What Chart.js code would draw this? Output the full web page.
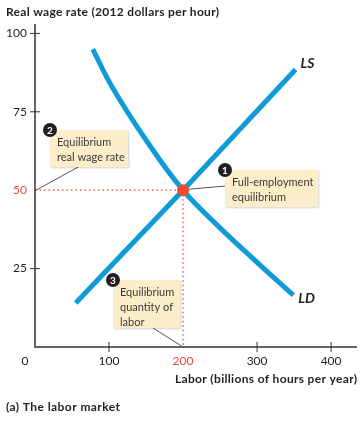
<!DOCTYPE html>
<html>
<head>
<meta charset="utf-8">
<script src="https://cdn.jsdelivr.net/npm/chart.js@4.4.1/dist/chart.umd.min.js"></script>
<style>
  html, body { margin: 0; padding: 0; background: #fff; }
  #wrap { width: 364px; height: 424px; }
</style>
</head>
<body>
<div id="wrap"><canvas id="labor" width="364" height="424"></canvas></div>
<script>
// values
const xTicks = [0, 100, 200, 300, 400];
const yTicks = [25, 50, 75, 100];
const lsLabor = [55, 200, 352];
const lsWage = [14, 50, 88.5];
const ldLabor = [78, 104, 150, 200, 250, 300, 349];
const ldWage = [95, 83, 66, 50, 38, 27, 16.5];
const eqLabor = 200;
const eqWage = 50;

const BLUE = "#0f9bd7";
const RED = "#ef4a2c";
const INK = "#231f20";
const FONT = "Lato, 'Open Sans', sans-serif";

const toPts = (xs, ys) => xs.map((x, i) => ({ x, y: ys[i] }));

// bold heading stretched to the width it has in the figure
function heading(ctx, text, x, y, width, align) {
  ctx.save();
  ctx.font = `bold 12px ${FONT}`;
  ctx.fillStyle = INK;
  ctx.textBaseline = "middle";
  const natural = ctx.measureText(text).width;
  if ("letterSpacing" in ctx) {
    ctx.letterSpacing = `${(width - natural) / (text.length - 1)}px`;
  }
  ctx.textAlign = "left";
  const left = align === "right" ? x - width : x;
  ctx.fillText(text, left, y);
  ctx.restore();
}

function callout(ctx, box, num, lines) {
  ctx.save();
  ctx.shadowColor = "rgba(0,0,0,0.18)";
  ctx.shadowBlur = 2;
  ctx.shadowOffsetX = 1;
  ctx.shadowOffsetY = 1;
  ctx.fillStyle = "#fdedc9";
  ctx.fillRect(box.x, box.y, box.w, box.h);
  ctx.restore();

  ctx.fillStyle = "#3a3a3a";
  ctx.font = `11px ${FONT}`;
  ctx.textAlign = "left";
  ctx.textBaseline = "middle";
  lines.forEach((t, i) => ctx.fillText(t, box.x + 7, box.y + 12 + i * 15));

  ctx.beginPath();
  ctx.arc(box.x, box.y, 7, 0, Math.PI * 2);
  ctx.fillStyle = INK;
  ctx.fill();
  ctx.fillStyle = "#fff";
  ctx.font = `bold 10px ${FONT}`;
  ctx.textAlign = "center";
  ctx.fillText(num, box.x, box.y + 0.5);
}

function leader(ctx, x1, y1, x2, y2) {
  ctx.save();
  ctx.strokeStyle = "#555";
  ctx.lineWidth = 1;
  ctx.beginPath();
  ctx.moveTo(x1, y1);
  ctx.lineTo(x2, y2);
  ctx.stroke();
  ctx.restore();
}

const frame = {
  id: "frame",
  beforeDatasetsDraw(chart) {
    const { ctx, chartArea: a, scales: { x, y } } = chart;
    const ex = x.getPixelForValue(eqLabor);
    const ey = y.getPixelForValue(eqWage);

    // dotted guides to the equilibrium
    ctx.save();
    ctx.strokeStyle = RED;
    ctx.lineWidth = 1.3;
    ctx.setLineDash([1.5, 3]);
    ctx.beginPath();
    ctx.moveTo(a.left, ey);
    ctx.lineTo(ex, ey);
    ctx.moveTo(ex, ey);
    ctx.lineTo(ex, a.bottom);
    ctx.stroke();
    ctx.restore();

    // axes
    ctx.save();
    ctx.strokeStyle = "#333";
    ctx.lineWidth = 1.5;
    ctx.beginPath();
    ctx.moveTo(a.left, a.top);
    ctx.lineTo(a.left, a.bottom);
    ctx.lineTo(a.right, a.bottom);
    ctx.stroke();

    ctx.lineWidth = 1;
    ctx.font = `12px ${FONT}`;
    ctx.textBaseline = "middle";
    ctx.textAlign = "right";
    yTicks.forEach((v) => {
      const py = y.getPixelForValue(v);
      ctx.beginPath();
      ctx.moveTo(a.left - 5, py);
      ctx.lineTo(a.left + 5, py);
      if (v !== eqWage) ctx.stroke();
      ctx.fillStyle = v === eqWage ? RED : INK;
      ctx.fillText(String(v), a.left - 8, py);
    });

    ctx.textAlign = "center";
    xTicks.forEach((v) => {
      const px = x.getPixelForValue(v);
      if (v !== 0 && v !== eqLabor) {
        ctx.beginPath();
        ctx.moveTo(px, a.bottom - 5);
        ctx.lineTo(px, a.bottom + 5);
        ctx.stroke();
      }
      ctx.fillStyle = v === eqLabor ? RED : INK;
      ctx.fillText(String(v), v === 0 ? px - 10 : px, a.bottom + 14);
    });
    ctx.restore();
  },
  afterDatasetsDraw(chart) {
    const { ctx, chartArea: a, scales: { x, y } } = chart;
    const ex = x.getPixelForValue(eqLabor);
    const ey = y.getPixelForValue(eqWage);

    heading(ctx, "Real wage rate (2012 dollars per hour)", 6, 12, 213, "left");
    heading(ctx, "Labor (billions of hours per year)", a.right, 379, 182, "right");
    heading(ctx, "(a) The labor market", 6, 407, 114, "left");

    ctx.save();
    // curve labels
    ctx.fillStyle = INK;
    ctx.textBaseline = "middle";
    ctx.font = `italic bold 14px ${FONT}`;
    ctx.textAlign = "left";
    const lsEnd = lsLabor.length - 1;
    const ldEnd = ldLabor.length - 1;
    ctx.fillText("LS", x.getPixelForValue(lsLabor[lsEnd]) + 5, y.getPixelForValue(lsWage[lsEnd]) - 6);
    ctx.fillText("LD", x.getPixelForValue(ldLabor[ldEnd]) + 5, y.getPixelForValue(ldWage[ldEnd]) + 3);

    // callouts
    leader(ctx, ex + 6, ey - 1, 226, 186);
    callout(ctx, { x: 225, y: 170, w: 93, h: 37 }, "1", ["Full-employment", "equilibrium"]);

    leader(ctx, a.left + 1, ey, 80, 166);
    callout(ctx, { x: 50, y: 130, w: 78, h: 37 }, "2", ["Equilibrium", "real wage rate"]);

    leader(ctx, ex, a.bottom, 153, 328);
    callout(ctx, { x: 113, y: 280, w: 67, h: 48 }, "3", ["Equilibrium", "quantity of", "labor"]);
    ctx.restore();
  }
};

new Chart(document.getElementById("labor"), {
  type: "scatter",
  data: {
    datasets: [
      {
        label: "Equilibrium",
        data: [{ x: eqLabor, y: eqWage }],
        pointRadius: 6,
        pointBackgroundColor: RED,
        pointBorderWidth: 0,
        order: 0
      },
      {
        label: "LS",
        data: toPts(lsLabor, lsWage),
        showLine: true,
        borderColor: BLUE,
        borderWidth: 5,
        pointRadius: 0,
        order: 1
      },
      {
        label: "LD",
        data: toPts(ldLabor, ldWage),
        showLine: true,
        borderColor: BLUE,
        borderWidth: 5,
        pointRadius: 0,
        tension: 0.4,
        order: 1
      }
    ]
  },
  options: {
    responsive: false,
    animation: false,
    events: [],
    devicePixelRatio: 1,
    layout: { padding: { left: 35, right: 7, top: 24, bottom: 77 } },
    plugins: { legend: { display: false }, tooltip: { enabled: false } },
    scales: {
      x: { type: "linear", display: false, min: 0, max: 435 },
      y: { type: "linear", display: false, min: 0, max: 103 }
    }
  },
  plugins: [frame]
});
</script>
</body>
</html>
